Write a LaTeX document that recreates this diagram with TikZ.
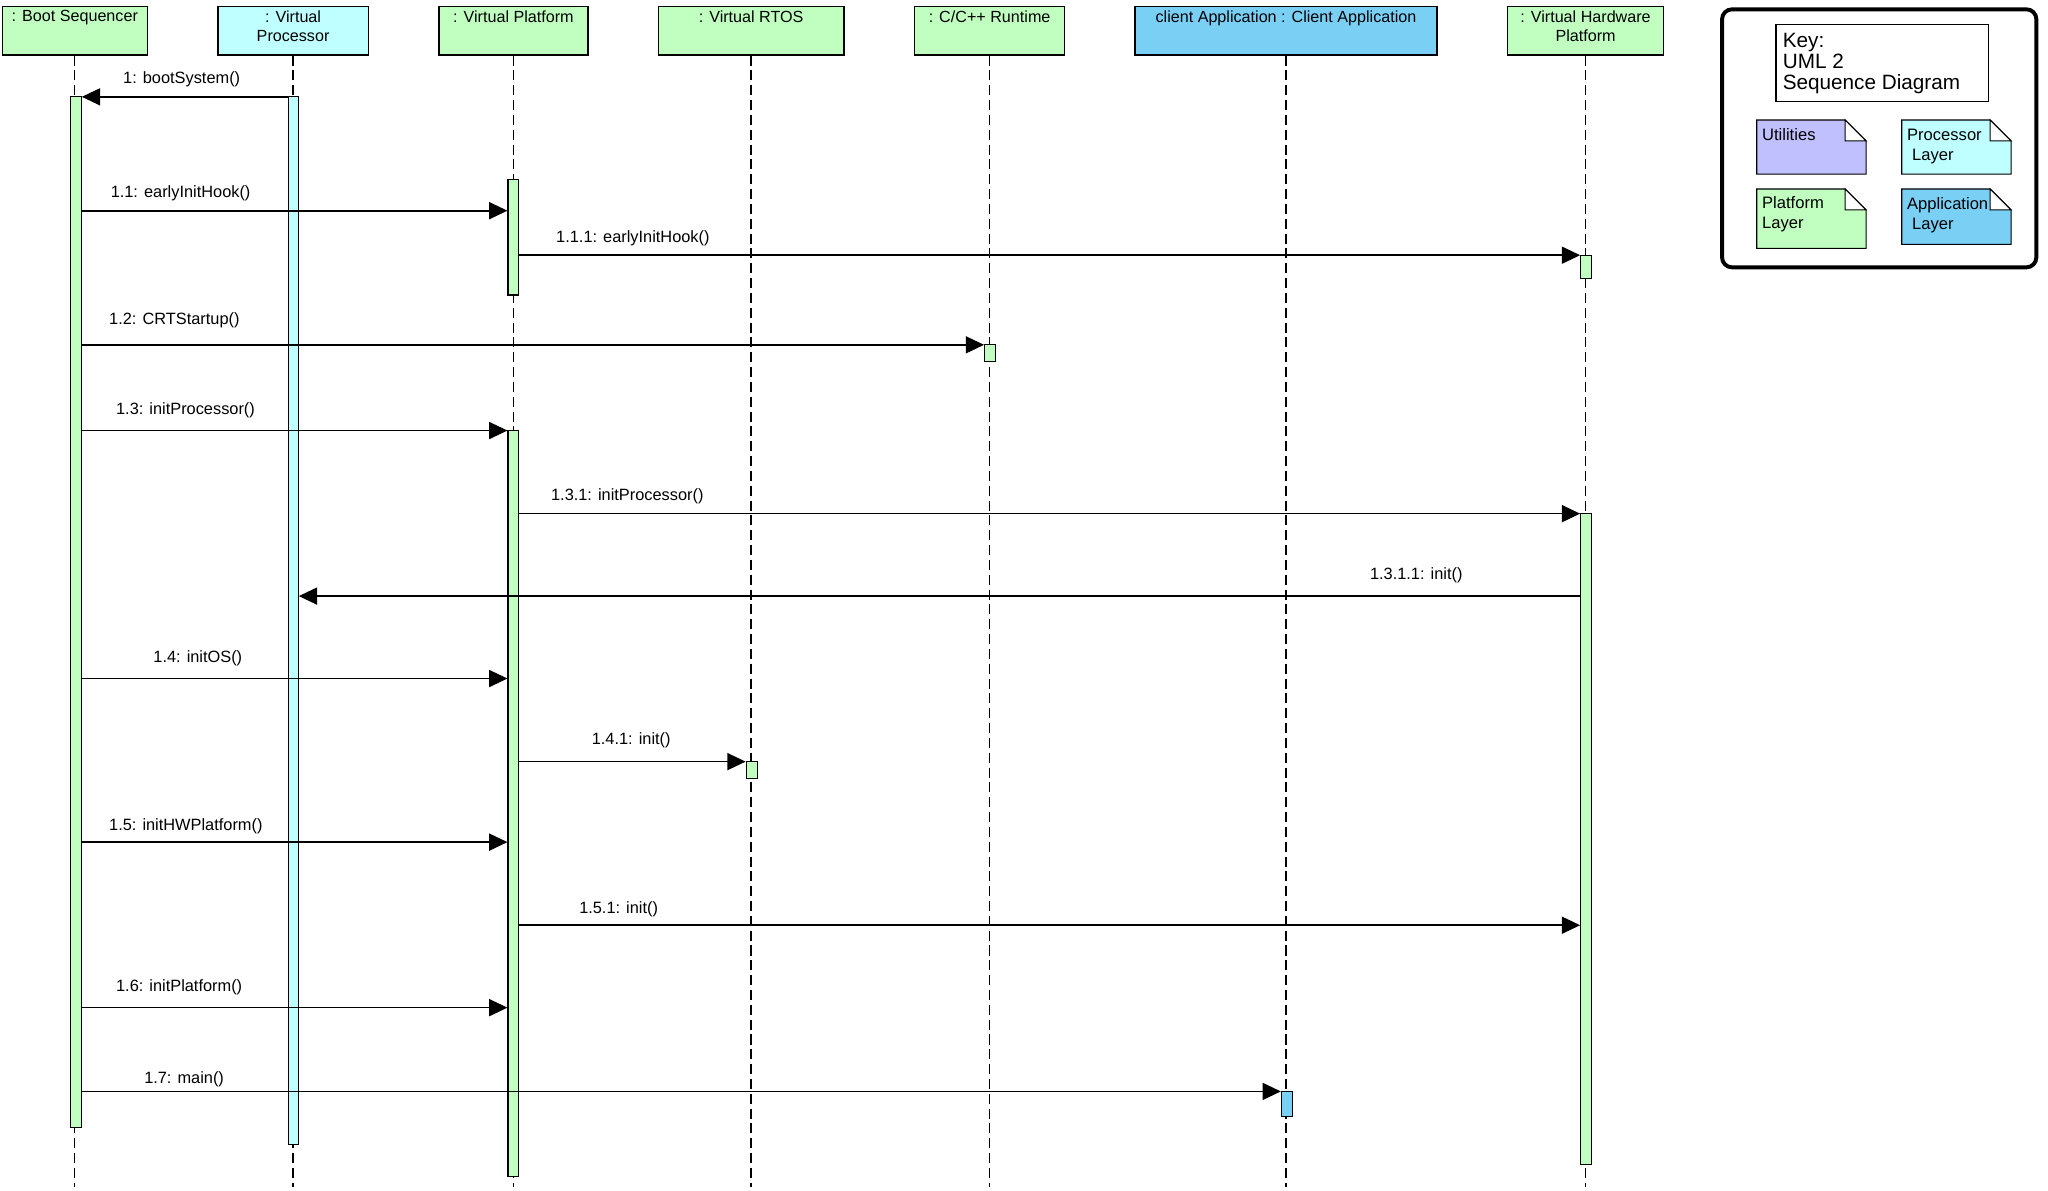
\documentclass[tikz,border=0pt]{standalone}
\usepackage{fontspec}
\setmainfont{Liberation Sans}
\usetikzlibrary{arrows.meta,fit}
\definecolor{cgreen}{HTML}{C0FFC0}
\definecolor{ccyan}{HTML}{C0FFFF}
\definecolor{cblue}{HTML}{7ACFF5}
\definecolor{cpurple}{HTML}{C0C0FF}
\newcommand\mynote[5]{%
  \filldraw[fill=#5, draw=black, line width=0.5pt] (#1,#2) -- (#3-16,#2) -- (#3,#2+16) -- (#3,#4) -- (#1,#4) -- cycle;}
\newcommand\myfold[3]{%
  \filldraw[fill=white, draw=black, line width=0.5pt] (#2-16,#1) -- (#2-16,#1+16) -- (#2,#1+16) -- cycle;}
\begin{document}
\begin{tikzpicture}[x=0.6pt,y=-0.6pt,
  hdr/.style={draw=black, line width=0.6pt, inner sep=0pt},
  hdrtxt/.style={anchor=north, inner sep=0pt, align=center, font=\fontsize{7.4}{9}\selectfont},
  life/.style={draw=black, line width=0.65pt, dash pattern=on 4.6pt off 2.2pt},
  actbar/.style={draw=black, line width=0.5pt, inner sep=0pt},
  msg/.style={draw=black, line width=0.75pt, -{Triangle[length=8.4pt,width=7.8pt]}},
  mlabel/.style={anchor=base west, inner sep=0pt, font=\fontsize{7.5}{9}\selectfont},
  notetxt/.style={anchor=north west, inner sep=0pt, align=left, font=\fontsize{7.6}{9.3}\selectfont}]
\useasboundingbox (0,0) rectangle (1565,909.4);
\fill[white] (0,0) rectangle (1565,909.4);

% lifeline heads
\node[hdr, fill=cgreen, fit={(1.7,5) (112.6,42)}] (boot) {};
\node[hdr, fill=ccyan, fit={(166.5,5) (281.4,42)}] (vproc) {};
\node[hdr, fill=cgreen, fit={(335.4,5) (449.3,42)}] (vplat) {};
\node[hdr, fill=cgreen, fit={(503,5) (645,42)}] (rtos) {};
\node[hdr, fill=cgreen, fit={(698.7,5) (813.7,42)}] (crt) {};
\node[hdr, fill=cblue, fit={(867.4,5) (1098,42)}] (app) {};
\node[hdr, fill=cgreen, fit={(1151.9,5) (1271.3,42)}] (vhw) {};

\node[hdrtxt] (tboot) at (boot.north |- 0,7.8) {: Boot Sequencer};
\node[hdrtxt] (tvproc) at (vproc.north |- 0,7.8) {: Virtual\\Processor};
\node[hdrtxt] (tvplat) at (vplat.north |- 0,7.8) {: Virtual Platform};
\node[hdrtxt] (trtos) at (rtos.north |- 0,7.8) {: Virtual RTOS};
\node[hdrtxt] (tcrt) at (crt.north |- 0,7.8) {: C/C++ Runtime};
\node[hdrtxt] (tapp) at (app.north |- 0,7.8) {client Application : Client Application};
\node[hdrtxt] (tvhw) at (vhw.north |- 0,7.8) {: Virtual Hardware\\Platform};

% lifelines
\foreach \h in {boot,vproc,vplat,rtos,crt,app,vhw}
  \draw[life] (\h.south) -- (\h.south |- 0,907);

% activation bars
\node[actbar, fill=cgreen, fit={(53.9,73.9) (62.1,861.7)}] (bootbar) {};
\node[actbar, fill=ccyan, fit={(220.4,73.9) (227.9,874.5)}] (vprocbar) {};
\node[actbar, fill=cgreen, fit={(388.2,137) (396.4,225.4)}] (vplat1) {};
\node[actbar, fill=cgreen, fit={(388.2,328.8) (396.4,898.7)}] (vplat2) {};
\node[actbar, fill=cgreen, fit={(1207.9,194.9) (1216.1,212.7)}] (vhw1) {};
\node[actbar, fill=cgreen, fit={(1207.9,392.3) (1216.1,890)}] (vhw2) {};
\node[actbar, fill=cgreen, fit={(752.4,263.3) (760.8,276.4)}] (crtbar) {};
\node[actbar, fill=cgreen, fit={(570.2,581.8) (578.6,594.8)}] (rtosbar) {};
\node[actbar, fill=cblue, fit={(979.2,834.2) (987.6,853.2)}] (appbar) {};

% messages
\draw[msg] (vprocbar.west |- 0,74) -- (bootbar.east |- 0,74);
\draw[msg] (bootbar.east |- 0,161) -- (vplat1.west |- 0,161);
\draw[msg] (vplat1.east |- 0,195) -- (vhw1.west |- 0,195);
\draw[msg] (bootbar.east |- 0,263.5) -- (crtbar.west |- 0,263.5);
\draw[msg] (bootbar.east |- 0,329) -- (vplat2.west |- 0,329);
\draw[msg] (vplat2.east |- 0,392.5) -- (vhw2.west |- 0,392.5);
\draw[msg] (vhw2.west |- 0,455.5) -- (vprocbar.east |- 0,455.5);
\draw[msg] (bootbar.east |- 0,518.5) -- (vplat2.west |- 0,518.5);
\draw[msg] (vplat2.east |- 0,582) -- (rtosbar.west |- 0,582);
\draw[msg] (bootbar.east |- 0,643.5) -- (vplat2.west |- 0,643.5);
\draw[msg] (vplat2.east |- 0,707) -- (vhw2.west |- 0,707);
\draw[msg] (bootbar.east |- 0,770) -- (vplat2.west |- 0,770);
\draw[msg] (bootbar.east |- 0,834) -- (appbar.west |- 0,834);

\node[mlabel] (l1) at (93.8,63.9) {1: bootSystem()};
\node[mlabel] (l11) at (84.3,150.9) {1.1: earlyInitHook()};
\node[mlabel] (l111) at (424.7,185.3) {1.1.1: earlyInitHook()};
\node[mlabel] (l12) at (83.1,248.3) {1.2: CRTStartup()};
\node[mlabel] (l13) at (88.4,316.5) {1.3: initProcessor()};
\node[mlabel] (l131) at (420.8,382.7) {1.3.1: initProcessor()};
\node[mlabel] (l1311) at (1046.6,443.1) {1.3.1.1: init()};
\node[mlabel] (l14) at (116.9,506.2) {1.4: initOS()};
\node[mlabel] (l141) at (451.9,569.2) {1.4.1: init()};
\node[mlabel] (l15) at (83.1,634.9) {1.5: initHWPlatform()};
\node[mlabel] (l151) at (442.3,697.8) {1.5.1: init()};
\node[mlabel] (l16) at (88.4,757.7) {1.6: initPlatform()};
\node[mlabel] (l17) at (109.9,827.8) {1.7: main()};

% key
\node[draw=black, line width=1.8pt, rounded corners=4.6pt, inner sep=0pt, fit={(1315.9,7.1) (1556.1,204.3)}] (keyframe) {};
\node[draw=black, line width=0.6pt, inner sep=0pt, fit={(1357.2,18.6) (1519.7,77.7)}] (keybox) {};
\node[anchor=north west, inner sep=0pt, align=left, font=\fontsize{9.5}{9.6}\selectfont] (keytxt) at (1362,25.2) {Key:\\UML 2\\Sequence Diagram};

\mynote{1342.4}{91.7}{1426}{133}{cpurple}
\mynote{1453.2}{91.7}{1536.8}{133}{ccyan}
\mynote{1342.4}{144.4}{1426}{189.8}{cgreen}
\mynote{1453.2}{144.4}{1536.8}{186.7}{cblue}
\node[notetxt] (nutil) at (1346.2,97.8) {Utilities};
\node[notetxt] (nproc) at (1457,98.2) {Processor\\\hspace*{0.3em}Layer};
\node[notetxt] (nplat) at (1346.2,149.9) {Platform\\Layer};
\node[notetxt] (napp) at (1457,150.7) {Application\\\hspace*{0.3em}Layer};
\myfold{91.7}{1426}{}
\myfold{91.7}{1536.8}{}
\myfold{144.4}{1426}{}
\myfold{144.4}{1536.8}{}
\end{tikzpicture}
\end{document}
